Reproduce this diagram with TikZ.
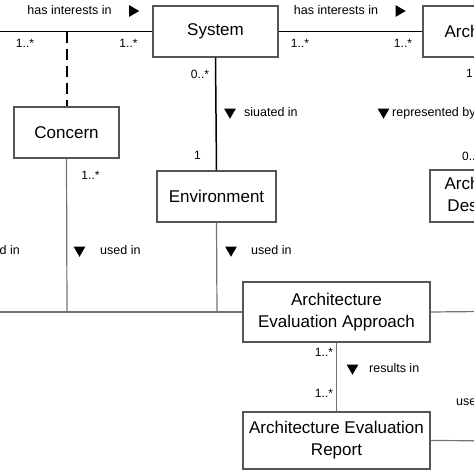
\documentclass[tikz,border=0pt]{standalone}
\usepackage{fontspec}
\setmainfont{Liberation Sans}
\usetikzlibrary{shapes.geometric}
\definecolor{boxgray}{RGB}{85,85,85}
\definecolor{linegray}{RGB}{115,115,115}
\begin{document}
\begin{tikzpicture}[x=1pt,y=-1pt,
  box/.style={draw=boxgray, line width=1.1pt, fill=white, font=\fontsize{17}{22}\selectfont, align=center, inner sep=0pt},
  lbl/.style={font=\fontsize{12.5}{14}\selectfont, inner sep=0pt},
  mult/.style={font=\fontsize{12}{14}\selectfont, inner sep=0pt},
  tri/.style={fill=black, regular polygon, regular polygon sides=3, minimum size=13.5pt, inner sep=0pt},
  tridown/.style={tri, shape border rotate=180},
  triright/.style={tri, shape border rotate=-90},
  assoc/.style={line width=1.5pt, black},
  link/.style={line width=1.2pt, linegray}]
\useasboundingbox (0,0) rectangle (474,474);
% boxes
\node[box, minimum width=125pt, minimum height=51pt] (system) at (215.5,31.5) {System};
\node[box, minimum width=134pt, minimum height=51pt] (arch) at (490,31.5) {Architecture};
\node[box, minimum width=105pt, minimum height=51pt] (concern) at (66.5,132.5) {Concern};
\node[box, minimum width=119pt, minimum height=51pt] (env) at (216.5,196.5) {Environment};
\node[box, minimum width=120pt, minimum height=52pt] (ad) at (490,196) {Architecture\\Description};
\node[box, minimum width=187pt, minimum height=60pt] (aea) at (336.5,312) {Architecture\\Evaluation Approach};
\node[box, minimum width=187pt, minimum height=57pt] (aer) at (336.5,440.5) {Architecture Evaluation\\Report};
% coordinates
\coordinate (stake) at (-40,31.5);
\coordinate (ac) at (67,31.5);
\coordinate (j1) at (67,312);
\coordinate (j2) at (217,312);
\coordinate (leftend) at (-40,312);
\coordinate (r1) at (530,311);
\coordinate (r2) at (530,441);
% connectors
\draw[assoc] (stake) -- (system.west);
\draw[assoc] (system.east) -- (arch.west);
\draw[assoc, dash pattern=on 11pt off 6pt] (ac) -- (ac |- concern.north);
\draw[assoc] (system.south) -- (env.north);
\draw[assoc] (arch.south) -- (ad.north);
\draw[link] (concern.south) -- (j1);
\draw[link] (env.south) -- (j2);
\draw[link] (leftend) -- (aea.west);
\draw[link] (aea.east) -- (r1);
\draw[link] (aer.east) -- (r2);
\draw[link] (aea.south) -- (aer.north);
% labels top
\node[lbl, anchor=mid] (l1) at (69.5,12) {has interests in};
\node[triright] (t1) at (132.5,11) {};
\node[lbl, anchor=mid] (l2) at (336,12) {has interests in};
\node[triright] (t2) at (399,11) {};
\node[mult, anchor=mid] (m1) at (25,45) {1..*};
\node[mult, anchor=mid] (m2) at (128.5,45) {1..*};
\node[mult, anchor=mid] (m3) at (300,45) {1..*};
\node[mult, anchor=mid] (m4) at (403,45) {1..*};
% system - environment
\node[mult, anchor=mid] (m5) at (200,76) {0..*};
\node[mult, anchor=mid] (m6) at (197.5,157) {1};
\node[tridown] (t3) at (230,112) {};
\node[lbl, anchor=mid west] (l3) at (244,114) {siuated in};
% architecture - description
\node[mult, anchor=mid west] (m7) at (466,75) {1};
\node[tridown] (t4) at (383.5,112) {};
\node[lbl, anchor=mid west] (l4) at (392,114) {represented by};
\node[mult, anchor=mid west] (m8) at (462,158) {0..*};
% used in
\node[mult, anchor=mid] (m9) at (90.5,177) {1..*};
\node[tridown] (t5) at (79.5,250) {};
\node[lbl, anchor=mid west] (l5) at (100,252) {used in};
\node[tridown] (t6) at (231,250) {};
\node[lbl, anchor=mid west] (l6) at (251,252) {used in};
\node[lbl, anchor=mid east] (l7) at (20,252) {used in};
% results in
\node[mult, anchor=mid] (m10) at (324,354) {1..*};
\node[mult, anchor=mid] (m11) at (324,395) {1..*};
\node[tridown] (t7) at (352.5,368) {};
\node[lbl, anchor=mid west] (l8) at (369,370) {results in};
\node[lbl, anchor=mid west] (l9) at (456,403) {used in};
\end{tikzpicture}
\end{document}
